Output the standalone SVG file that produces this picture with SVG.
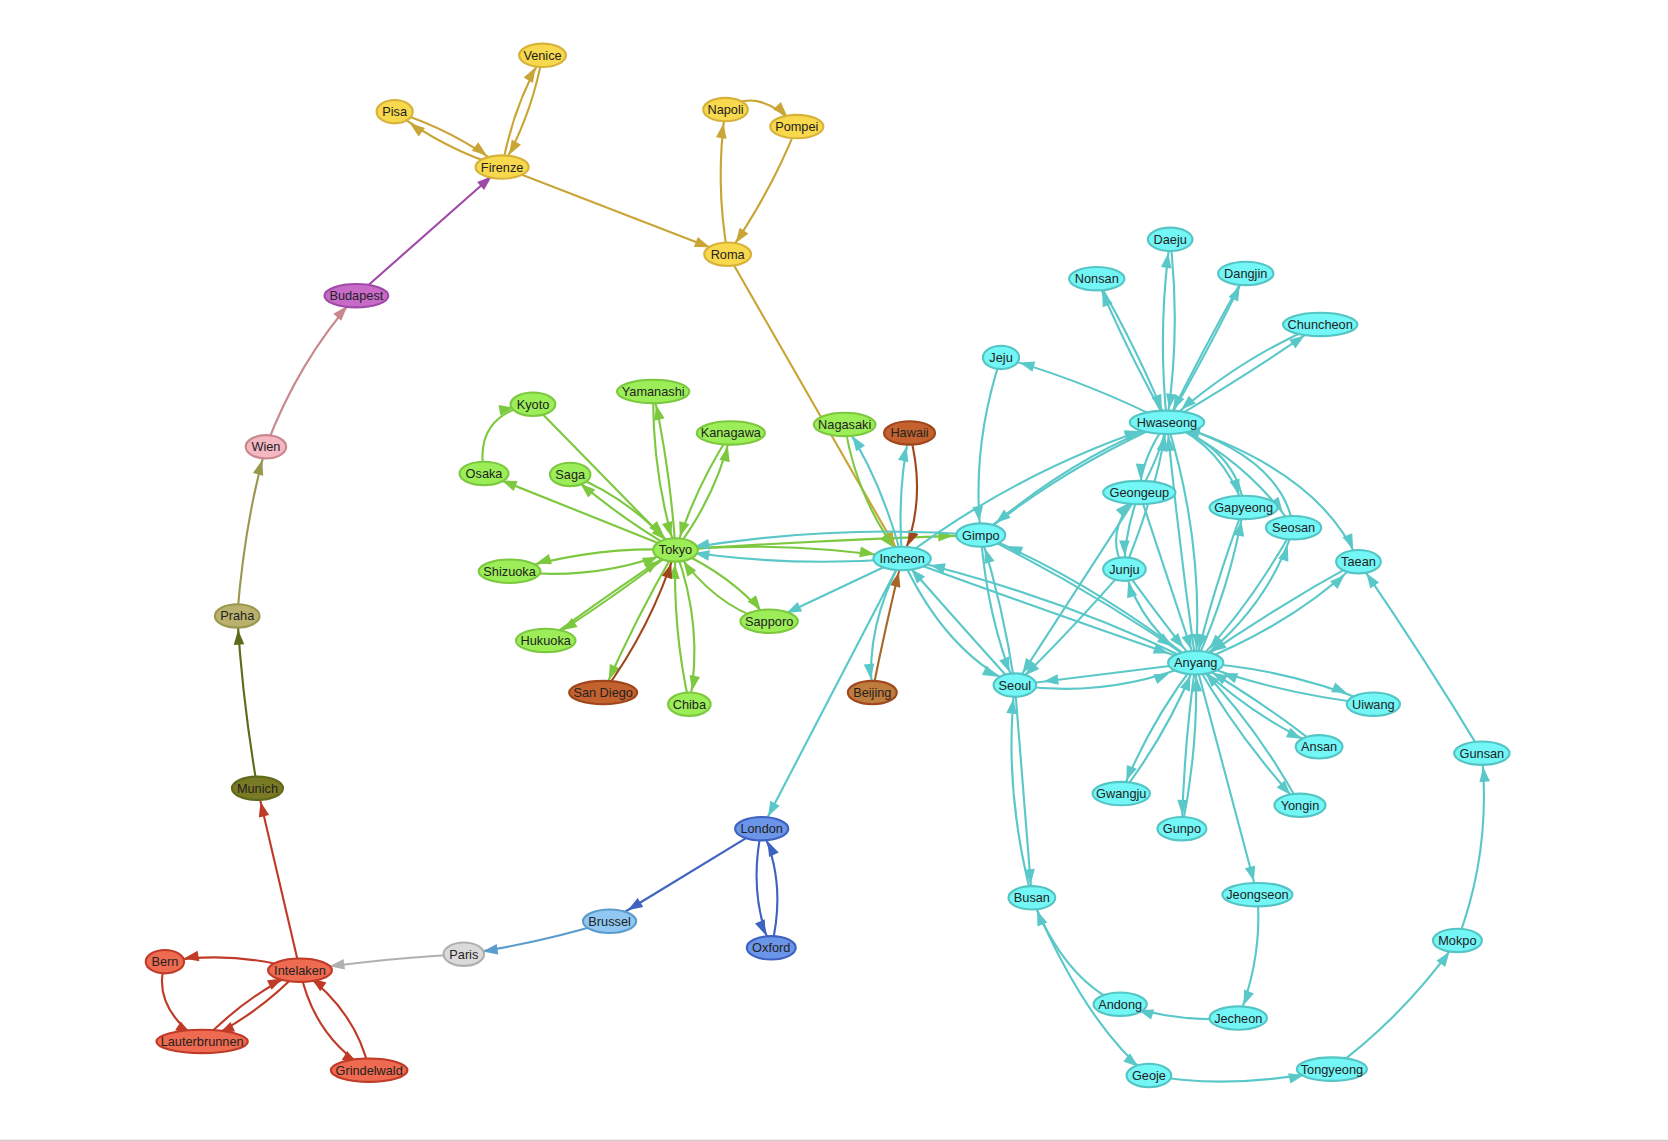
<svg xmlns="http://www.w3.org/2000/svg" width="1668" height="1141" viewBox="0 0 1668 1141">
<style>
.e{fill:none;stroke-width:2}
.n ellipse{stroke-width:2}
.n text{font-family:"Liberation Sans",Arial,sans-serif;font-size:12px;fill:#222;text-anchor:middle;dominant-baseline:central}
.ye ellipse{fill:#f8d84c;stroke:#d6b23a}.gr ellipse{fill:#9cee58;stroke:#7cc83f}.cy ellipse{fill:#72f6f6;stroke:#55c4c4}
.rd ellipse{fill:#ee6a50;stroke:#c03a28}
</style>
<defs>
<marker id="ye-a" markerUnits="userSpaceOnUse" orient="auto" refX="27" refY="0" overflow="visible"><path d="M0,-5 L14,0 L0,5z" fill="#c8a535"/></marker>
<marker id="ye-b" markerUnits="userSpaceOnUse" orient="auto" refX="32" refY="0" overflow="visible"><path d="M0,-5 L14,0 L0,5z" fill="#c8a535"/></marker>
<marker id="pu-a" markerUnits="userSpaceOnUse" orient="auto" refX="27" refY="0" overflow="visible"><path d="M0,-5 L14,0 L0,5z" fill="#a04aa8"/></marker>
<marker id="pk-a" markerUnits="userSpaceOnUse" orient="auto" refX="27" refY="0" overflow="visible"><path d="M0,-5 L14,0 L0,5z" fill="#c98890"/></marker>
<marker id="ol-a" markerUnits="userSpaceOnUse" orient="auto" refX="27" refY="0" overflow="visible"><path d="M0,-5 L14,0 L0,5z" fill="#9a9850"/></marker>
<marker id="od-a" markerUnits="userSpaceOnUse" orient="auto" refX="27" refY="0" overflow="visible"><path d="M0,-5 L14,0 L0,5z" fill="#5e6a1a"/></marker>
<marker id="re-a" markerUnits="userSpaceOnUse" orient="auto" refX="27" refY="0" overflow="visible"><path d="M0,-5 L14,0 L0,5z" fill="#c03a28"/></marker>
<marker id="re-b" markerUnits="userSpaceOnUse" orient="auto" refX="32" refY="0" overflow="visible"><path d="M0,-5 L14,0 L0,5z" fill="#c03a28"/></marker>
<marker id="gy-c" markerUnits="userSpaceOnUse" orient="auto" refX="42" refY="0" overflow="visible"><path d="M0,-5 L14,0 L0,5z" fill="#b0b0b0"/></marker>
<marker id="lb-b" markerUnits="userSpaceOnUse" orient="auto" refX="32" refY="0" overflow="visible"><path d="M0,-5 L14,0 L0,5z" fill="#5a9ccc"/></marker>
<marker id="bl-a" markerUnits="userSpaceOnUse" orient="auto" refX="27" refY="0" overflow="visible"><path d="M0,-5 L14,0 L0,5z" fill="#3e62c0"/></marker>
<marker id="bl-b" markerUnits="userSpaceOnUse" orient="auto" refX="34" refY="0" overflow="visible"><path d="M0,-5 L14,0 L0,5z" fill="#3e62c0"/></marker>
<marker id="gr-a" markerUnits="userSpaceOnUse" orient="auto" refX="27" refY="0" overflow="visible"><path d="M0,-5 L14,0 L0,5z" fill="#7cc83f"/></marker>
<marker id="gr-b" markerUnits="userSpaceOnUse" orient="auto" refX="32" refY="0" overflow="visible"><path d="M0,-5 L14,0 L0,5z" fill="#7cc83f"/></marker>
<marker id="gr-c" markerUnits="userSpaceOnUse" orient="auto" refX="40" refY="0" overflow="visible"><path d="M0,-5 L14,0 L0,5z" fill="#7cc83f"/></marker>
<marker id="br-a" markerUnits="userSpaceOnUse" orient="auto" refX="27" refY="0" overflow="visible"><path d="M0,-5 L14,0 L0,5z" fill="#a0461c"/></marker>
<marker id="bn-a" markerUnits="userSpaceOnUse" orient="auto" refX="27" refY="0" overflow="visible"><path d="M0,-5 L14,0 L0,5z" fill="#a8672a"/></marker>
<marker id="cy-a" markerUnits="userSpaceOnUse" orient="auto" refX="27" refY="0" overflow="visible"><path d="M0,-5 L14,0 L0,5z" fill="#5ac8c8"/></marker>
<marker id="cy-b" markerUnits="userSpaceOnUse" orient="auto" refX="32" refY="0" overflow="visible"><path d="M0,-5 L14,0 L0,5z" fill="#5ac8c8"/></marker>
<marker id="cy-c" markerUnits="userSpaceOnUse" orient="auto" refX="41" refY="0" overflow="visible"><path d="M0,-5 L14,0 L0,5z" fill="#5ac8c8"/></marker>
</defs>
<rect width="1668" height="1141" fill="#fff"/>
<g transform="scale(1.0638)">
<g id="connectors">
<g stroke="#c8a535">
<path class="e" d="M371,105 Q426,122 472,157" marker-end="url(#ye-b)"/>
<path class="e" d="M472,157 Q417,140 371,105" marker-end="url(#ye-b)"/>
<path class="e" d="M472,157 Q482,101 510,52" marker-end="url(#ye-a)"/>
<path class="e" d="M510,52 Q500,108 472,157" marker-end="url(#ye-a)"/>
<path class="e" d="M472,157 L684,239" marker-end="url(#ye-b)"/>
<path class="e" d="M684,239 Q672,170 682,103" marker-end="url(#ye-a)"/>
<path class="e" d="M682,103 Q712,80 749,119" marker-end="url(#ye-a)"/>
<path class="e" d="M749,119 Q725,180 684,239" marker-end="url(#ye-a)"/>
<path class="e" d="M684,239 L848,525" marker-end="url(#ye-a)"/>
</g>
<path class="e" stroke="#a04aa8" d="M335,278 L472,157" marker-end="url(#pu-a)"/>
<path class="e" stroke="#c98890" d="M250,420 Q280,340 335,278" marker-end="url(#pk-a)"/>
<path class="e" stroke="#9a9850" d="M223,579 Q230,490 250,420" marker-end="url(#ol-a)"/>
<path class="e" stroke="#5e6a1a" d="M242,741 Q228,660 223,579" marker-end="url(#od-a)"/>
<g stroke="#c03a28">
<path class="e" d="M282,912 L242,741" marker-end="url(#re-a)"/>
<path class="e" d="M282,912 Q220,893 155,904" marker-end="url(#re-b)"/>
<path class="e" d="M155,904 Q142,948 190,979" marker-end="url(#re-a)"/>
<path class="e" d="M282,912 Q242,954 190,979" marker-end="url(#re-b)"/>
<path class="e" d="M190,979 Q230,937 282,912" marker-end="url(#re-b)"/>
<path class="e" d="M282,912 Q295,975 347,1006" marker-end="url(#re-a)"/>
<path class="e" d="M347,1006 Q335,950 282,912" marker-end="url(#re-a)"/>
</g>
<path class="e" stroke="#b0b0b0" d="M436,897 Q370,900 282,912" marker-end="url(#gy-c)"/>
<path class="e" stroke="#5a9ccc" d="M573,866 Q510,886 436,897" marker-end="url(#lb-b)"/>
<g stroke="#3e62c0">
<path class="e" d="M716,779 L573,866" marker-end="url(#bl-b)"/>
<path class="e" d="M716,779 Q703,840 725,891" marker-end="url(#bl-a)"/>
<path class="e" d="M725,891 Q740,830 716,779" marker-end="url(#bl-a)"/>
</g>
<g stroke="#7cc83f">
<path class="e" d="M455,445 Q445,390 501,380" marker-end="url(#gr-b)"/>
<path class="e" d="M501,380 L635,517" marker-end="url(#gr-a)"/>
<path class="e" d="M635,517 Q630,440 614,368" marker-end="url(#gr-a)"/>
<path class="e" d="M614,368 Q613,445 635,517" marker-end="url(#gr-a)"/>
<path class="e" d="M635,517 Q674,465 687,407" marker-end="url(#gr-a)"/>
<path class="e" d="M687,407 Q655,455 635,517" marker-end="url(#gr-a)"/>
<path class="e" d="M635,517 L455,445" marker-end="url(#gr-b)"/>
<path class="e" d="M536,446 Q592,468 635,517" marker-end="url(#gr-b)"/>
<path class="e" d="M635,517 Q580,485 536,446" marker-end="url(#gr-a)"/>
<path class="e" d="M635,517 Q560,513 479,537" marker-end="url(#gr-c)"/>
<path class="e" d="M479,537 Q560,547 635,517" marker-end="url(#gr-b)"/>
<path class="e" d="M635,517 Q568,568 513,602" marker-end="url(#gr-b)"/>
<path class="e" d="M513,602 Q580,553 635,517" marker-end="url(#gr-b)"/>
<path class="e" d="M635,517 Q598,580 567,651" marker-end="url(#gr-a)"/>
<path class="e" d="M635,517 Q662,590 648,662" marker-end="url(#gr-a)"/>
<path class="e" d="M648,662 Q632,590 635,517" marker-end="url(#gr-a)"/>
<path class="e" d="M635,517 Q692,543 723,584" marker-end="url(#gr-a)"/>
<path class="e" d="M723,584 Q673,572 635,517" marker-end="url(#gr-a)"/>
<path class="e" d="M635,517 Q740,508 848,525" marker-end="url(#gr-c)"/>
<path class="e" d="M635,517 Q780,507 922,503" marker-end="url(#gr-c)"/>
<path class="e" d="M794,399 Q805,470 848,525" marker-end="url(#gr-a)"/>
</g>
<path class="e" stroke="#a0461c" d="M567,651 Q612,590 635,517" marker-end="url(#br-a)"/>
<path class="e" stroke="#a0461c" d="M855,407 Q872,470 848,525" marker-end="url(#br-a)"/>
<path class="e" stroke="#a8672a" d="M820,651 Q832,590 848,525" marker-end="url(#bn-a)"/>
<g stroke="#5ac8c8">
<path class="e" d="M848,525 L716,779" marker-end="url(#cy-a)"/>
<path class="e" d="M848,525 Q740,534 635,517" marker-end="url(#cy-b)"/>
<path class="e" d="M922,503 Q780,492 635,517" marker-end="url(#cy-b)"/>
<path class="e" d="M848,525 Q828,450 794,399" marker-end="url(#cy-a)"/>
<path class="e" d="M848,525 Q843,460 855,407" marker-end="url(#cy-a)"/>
<path class="e" d="M848,525 Q813,590 820,651" marker-end="url(#cy-a)"/>
<path class="e" d="M848,525 L723,584" marker-end="url(#cy-b)"/>
<path class="e" d="M848,525 Q960,440 1097,397" marker-end="url(#cy-c)"/>
<path class="e" d="M1097,397 Q1000,440 922,503" marker-end="url(#cy-b)"/>
<path class="e" d="M922,503 Q1010,428 1097,397" marker-end="url(#cy-c)"/>
<path class="e" d="M1097,397 Q1020,358 941,336" marker-end="url(#cy-b)"/>
<path class="e" d="M941,336 Q913,420 922,503" marker-end="url(#cy-a)"/>
<path class="e" d="M1097,397 Q1057,325 1031,262" marker-end="url(#cy-a)"/>
<path class="e" d="M1031,262 Q1071,332 1097,397" marker-end="url(#cy-a)"/>
<path class="e" d="M1097,397 Q1088,310 1100,225" marker-end="url(#cy-a)"/>
<path class="e" d="M1100,225 Q1110,310 1097,397" marker-end="url(#cy-a)"/>
<path class="e" d="M1097,397 Q1140,322 1171,257" marker-end="url(#cy-a)"/>
<path class="e" d="M1171,257 Q1130,330 1097,397" marker-end="url(#cy-a)"/>
<path class="e" d="M1097,397 Q1180,348 1241,305" marker-end="url(#cy-b)"/>
<path class="e" d="M1241,305 Q1165,336 1097,397" marker-end="url(#cy-b)"/>
<path class="e" d="M922,503 Q928,580 954,644" marker-end="url(#cy-a)"/>
<path class="e" d="M954,644 Q943,570 922,503" marker-end="url(#cy-a)"/>
<path class="e" d="M848,525 Q888,612 954,644" marker-end="url(#cy-b)"/>
<path class="e" d="M954,644 Q905,590 848,525" marker-end="url(#cy-a)"/>
<path class="e" d="M1124,623 Q990,558 848,525" marker-end="url(#cy-c)"/>
<path class="e" d="M848,525 Q990,577 1124,623" marker-end="url(#cy-c)"/>
<path class="e" d="M1124,623 Q1020,543 922,503" marker-end="url(#cy-c)"/>
<path class="e" d="M922,503 Q1030,557 1124,623" marker-end="url(#cy-c)"/>
<path class="e" d="M1071,463 L954,644" marker-end="url(#cy-a)"/>
<path class="e" d="M1057,535 Q1000,600 954,644" marker-end="url(#cy-a)"/>
<path class="e" d="M1097,397 Q1073,430 1071,463" marker-end="url(#cy-a)"/>
<path class="e" d="M1071,463 Q1092,425 1097,397" marker-end="url(#cy-a)"/>
<path class="e" d="M1071,463 Q1057,500 1057,535" marker-end="url(#cy-a)"/>
<path class="e" d="M1057,535 Q1036,500 1071,463" marker-end="url(#cy-a)"/>
<path class="e" d="M1057,535 Q1088,460 1097,397" marker-end="url(#cy-a)"/>
<path class="e" d="M1057,535 Q1097,590 1124,623" marker-end="url(#cy-b)"/>
<path class="e" d="M1124,623 Q1073,592 1057,535" marker-end="url(#cy-a)"/>
<path class="e" d="M1097,397 Q1132,510 1124,623" marker-end="url(#cy-a)"/>
<path class="e" d="M1124,623 Q1108,510 1097,397" marker-end="url(#cy-a)"/>
<path class="e" d="M1071,463 L1124,623" marker-end="url(#cy-a)"/>
<path class="e" d="M1097,397 Q1150,420 1169,477" marker-end="url(#cy-a)"/>
<path class="e" d="M1169,477 Q1165,425 1097,397" marker-end="url(#cy-b)"/>
<path class="e" d="M1124,623 Q1157,550 1169,477" marker-end="url(#cy-a)"/>
<path class="e" d="M1169,477 Q1140,555 1124,623" marker-end="url(#cy-a)"/>
<path class="e" d="M1097,397 Q1170,430 1216,496" marker-end="url(#cy-b)"/>
<path class="e" d="M1216,496 Q1205,428 1097,397" marker-end="url(#cy-b)"/>
<path class="e" d="M1216,496 Q1175,570 1124,623" marker-end="url(#cy-b)"/>
<path class="e" d="M1124,623 Q1192,572 1216,496" marker-end="url(#cy-b)"/>
<path class="e" d="M1097,397 Q1240,440 1277,528" marker-end="url(#cy-a)"/>
<path class="e" d="M1277,528 Q1200,570 1124,623" marker-end="url(#cy-b)"/>
<path class="e" d="M1124,623 Q1215,587 1277,528" marker-end="url(#cy-b)"/>
<path class="e" d="M954,644 Q1040,657 1124,623" marker-end="url(#cy-c)"/>
<path class="e" d="M1124,623 Q1040,633 954,644" marker-end="url(#cy-c)"/>
<path class="e" d="M1124,623 Q1210,628 1291,662" marker-end="url(#cy-c)"/>
<path class="e" d="M1291,662 Q1200,652 1124,623" marker-end="url(#cy-c)"/>
<path class="e" d="M1124,623 Q1175,672 1240,702" marker-end="url(#cy-b)"/>
<path class="e" d="M1240,702 Q1192,663 1124,623" marker-end="url(#cy-b)"/>
<path class="e" d="M1124,623 Q1080,680 1054,746" marker-end="url(#cy-a)"/>
<path class="e" d="M1054,746 Q1097,690 1124,623" marker-end="url(#cy-a)"/>
<path class="e" d="M1124,623 Q1113,700 1111,779" marker-end="url(#cy-a)"/>
<path class="e" d="M1111,779 Q1127,700 1124,623" marker-end="url(#cy-a)"/>
<path class="e" d="M1124,623 Q1163,692 1222,757" marker-end="url(#cy-a)"/>
<path class="e" d="M1222,757 Q1182,683 1124,623" marker-end="url(#cy-a)"/>
<path class="e" d="M1124,623 L1182,841" marker-end="url(#cy-a)"/>
<path class="e" d="M954,644 Q962,745 970,844" marker-end="url(#cy-a)"/>
<path class="e" d="M970,844 Q943,740 954,644" marker-end="url(#cy-a)"/>
<path class="e" d="M1182,841 Q1187,900 1164,957" marker-end="url(#cy-a)"/>
<path class="e" d="M1164,957 Q1110,962 1053,944" marker-end="url(#cy-b)"/>
<path class="e" d="M1053,944 Q1000,920 970,844" marker-end="url(#cy-a)"/>
<path class="e" d="M970,844 Q1020,962 1080,1011" marker-end="url(#cy-a)"/>
<path class="e" d="M1080,1011 Q1160,1025 1252,1005" marker-end="url(#cy-c)"/>
<path class="e" d="M1252,1005 Q1320,955 1370,884" marker-end="url(#cy-a)"/>
<path class="e" d="M1370,884 Q1402,800 1393,708" marker-end="url(#cy-a)"/>
<path class="e" d="M1393,708 Q1340,620 1277,528" marker-end="url(#cy-a)"/>
</g>
</g>
<g id="n-venice" class="n ye"><ellipse cx="510" cy="52" rx="22" ry="11"/><text x="510" y="52">Venice</text></g>
<g id="n-pisa" class="n ye"><ellipse cx="371" cy="105" rx="17" ry="11"/><text x="371" y="105">Pisa</text></g>
<g id="n-firenze" class="n ye"><ellipse cx="472" cy="157" rx="25" ry="11"/><text x="472" y="157">Firenze</text></g>
<g id="n-napoli" class="n ye"><ellipse cx="682" cy="103" rx="21" ry="11"/><text x="682" y="103">Napoli</text></g>
<g id="n-pompei" class="n ye"><ellipse cx="749" cy="119" rx="25" ry="11"/><text x="749" y="119">Pompei</text></g>
<g id="n-roma" class="n ye"><ellipse cx="684" cy="239" rx="22" ry="11"/><text x="684" y="239">Roma</text></g>
<g id="n-budapest" class="n"><ellipse cx="335" cy="278" rx="30" ry="11" fill="#c86ac8" stroke="#a04aa8"/><text x="335" y="278">Budapest</text></g>
<g id="n-wien" class="n"><ellipse cx="250" cy="420" rx="19" ry="11" fill="#f4b8c2" stroke="#c98890"/><text x="250" y="420">Wien</text></g>
<g id="n-praha" class="n"><ellipse cx="223" cy="579" rx="21" ry="11" fill="#bab16e" stroke="#9a9850"/><text x="223" y="579">Praha</text></g>
<g id="n-munich" class="n"><ellipse cx="242" cy="741" rx="24" ry="11" fill="#7b7a24" stroke="#5e6a1a"/><text x="242" y="741">Munich</text></g>
<g id="n-intelaken" class="n rd"><ellipse cx="282" cy="912" rx="30" ry="11"/><text x="282" y="912">Intelaken</text></g>
<g id="n-bern" class="n rd"><ellipse cx="155" cy="904" rx="18" ry="11"/><text x="155" y="904">Bern</text></g>
<g id="n-lauterbrunnen" class="n rd"><ellipse cx="190" cy="979" rx="43" ry="11"/><text x="190" y="979">Lauterbrunnen</text></g>
<g id="n-grindelwald" class="n rd"><ellipse cx="347" cy="1006" rx="36" ry="11"/><text x="347" y="1006">Grindelwald</text></g>
<g id="n-paris" class="n"><ellipse cx="436" cy="897" rx="19" ry="11" fill="#dadada" stroke="#b0b0b0"/><text x="436" y="897">Paris</text></g>
<g id="n-brussel" class="n"><ellipse cx="573" cy="866" rx="25" ry="11" fill="#90c8f2" stroke="#5a9ccc"/><text x="573" y="866">Brussel</text></g>
<g id="n-london" class="n"><ellipse cx="716" cy="779" rx="25" ry="11" fill="#6b95e8" stroke="#3e62c0"/><text x="716" y="779">London</text></g>
<g id="n-oxford" class="n"><ellipse cx="725" cy="891" rx="23" ry="11" fill="#6b95e8" stroke="#3e62c0"/><text x="725" y="891">Oxford</text></g>
<g id="n-kyoto" class="n gr"><ellipse cx="501" cy="380" rx="21" ry="11"/><text x="501" y="380">Kyoto</text></g>
<g id="n-yamanashi" class="n gr"><ellipse cx="614" cy="368" rx="34" ry="11"/><text x="614" y="368">Yamanashi</text></g>
<g id="n-kanagawa" class="n gr"><ellipse cx="687" cy="407" rx="32" ry="11"/><text x="687" y="407">Kanagawa</text></g>
<g id="n-osaka" class="n gr"><ellipse cx="455" cy="445" rx="23" ry="11"/><text x="455" y="445">Osaka</text></g>
<g id="n-saga" class="n gr"><ellipse cx="536" cy="446" rx="19" ry="11"/><text x="536" y="446">Saga</text></g>
<g id="n-tokyo" class="n gr"><ellipse cx="635" cy="517" rx="21" ry="11"/><text x="635" y="517">Tokyo</text></g>
<g id="n-shizuoka" class="n gr"><ellipse cx="479" cy="537" rx="29" ry="11"/><text x="479" y="537">Shizuoka</text></g>
<g id="n-hukuoka" class="n gr"><ellipse cx="513" cy="602" rx="28" ry="11"/><text x="513" y="602">Hukuoka</text></g>
<g id="n-sandiego" class="n"><ellipse cx="567" cy="651" rx="32" ry="11" fill="#c3622e" stroke="#a0461c"/><text x="567" y="651">San Diego</text></g>
<g id="n-chiba" class="n gr"><ellipse cx="648" cy="662" rx="20" ry="11"/><text x="648" y="662">Chiba</text></g>
<g id="n-sapporo" class="n gr"><ellipse cx="723" cy="584" rx="27" ry="11"/><text x="723" y="584">Sapporo</text></g>
<g id="n-nagasaki" class="n gr"><ellipse cx="794" cy="399" rx="29" ry="11"/><text x="794" y="399">Nagasaki</text></g>
<g id="n-hawaii" class="n"><ellipse cx="855" cy="407" rx="24" ry="11" fill="#c3622e" stroke="#a0461c"/><text x="855" y="407">Hawaii</text></g>
<g id="n-beijing" class="n"><ellipse cx="820" cy="651" rx="23" ry="11" fill="#c07c3e" stroke="#a0461c"/><text x="820" y="651">Beijing</text></g>
<g id="n-incheon" class="n cy"><ellipse cx="848" cy="525" rx="27" ry="11"/><text x="848" y="525">Incheon</text></g>
<g id="n-gimpo" class="n cy"><ellipse cx="922" cy="503" rx="23" ry="11"/><text x="922" y="503">Gimpo</text></g>
<g id="n-jeju" class="n cy"><ellipse cx="941" cy="336" rx="17" ry="11"/><text x="941" y="336">Jeju</text></g>
<g id="n-daeju" class="n cy"><ellipse cx="1100" cy="225" rx="21" ry="11"/><text x="1100" y="225">Daeju</text></g>
<g id="n-nonsan" class="n cy"><ellipse cx="1031" cy="262" rx="26" ry="11"/><text x="1031" y="262">Nonsan</text></g>
<g id="n-dangjin" class="n cy"><ellipse cx="1171" cy="257" rx="26" ry="11"/><text x="1171" y="257">Dangjin</text></g>
<g id="n-chuncheon" class="n cy"><ellipse cx="1241" cy="305" rx="35" ry="11"/><text x="1241" y="305">Chuncheon</text></g>
<g id="n-hwaseong" class="n cy"><ellipse cx="1097" cy="397" rx="35" ry="11"/><text x="1097" y="397">Hwaseong</text></g>
<g id="n-geongeup" class="n cy"><ellipse cx="1071" cy="463" rx="34" ry="11"/><text x="1071" y="463">Geongeup</text></g>
<g id="n-gapyeong" class="n cy"><ellipse cx="1169" cy="477" rx="32" ry="11"/><text x="1169" y="477">Gapyeong</text></g>
<g id="n-seosan" class="n cy"><ellipse cx="1216" cy="496" rx="26" ry="11"/><text x="1216" y="496">Seosan</text></g>
<g id="n-taean" class="n cy"><ellipse cx="1277" cy="528" rx="21" ry="11"/><text x="1277" y="528">Taean</text></g>
<g id="n-junju" class="n cy"><ellipse cx="1057" cy="535" rx="20" ry="11"/><text x="1057" y="535">Junju</text></g>
<g id="n-anyang" class="n cy"><ellipse cx="1124" cy="623" rx="26" ry="11"/><text x="1124" y="623">Anyang</text></g>
<g id="n-seoul" class="n cy"><ellipse cx="954" cy="644" rx="20" ry="11"/><text x="954" y="644">Seoul</text></g>
<g id="n-uiwang" class="n cy"><ellipse cx="1291" cy="662" rx="25" ry="11"/><text x="1291" y="662">Uiwang</text></g>
<g id="n-ansan" class="n cy"><ellipse cx="1240" cy="702" rx="22" ry="11"/><text x="1240" y="702">Ansan</text></g>
<g id="n-gwangju" class="n cy"><ellipse cx="1054" cy="746" rx="27" ry="11"/><text x="1054" y="746">Gwangju</text></g>
<g id="n-gunpo" class="n cy"><ellipse cx="1111" cy="779" rx="23" ry="11"/><text x="1111" y="779">Gunpo</text></g>
<g id="n-yongin" class="n cy"><ellipse cx="1222" cy="757" rx="24" ry="11"/><text x="1222" y="757">Yongin</text></g>
<g id="n-gunsan" class="n cy"><ellipse cx="1393" cy="708" rx="26" ry="11"/><text x="1393" y="708">Gunsan</text></g>
<g id="n-busan" class="n cy"><ellipse cx="970" cy="844" rx="22" ry="11"/><text x="970" y="844">Busan</text></g>
<g id="n-jeongseon" class="n cy"><ellipse cx="1182" cy="841" rx="33" ry="11"/><text x="1182" y="841">Jeongseon</text></g>
<g id="n-mokpo" class="n cy"><ellipse cx="1370" cy="884" rx="23" ry="11"/><text x="1370" y="884">Mokpo</text></g>
<g id="n-andong" class="n cy"><ellipse cx="1053" cy="944" rx="25" ry="11"/><text x="1053" y="944">Andong</text></g>
<g id="n-jecheon" class="n cy"><ellipse cx="1164" cy="957" rx="27" ry="11"/><text x="1164" y="957">Jecheon</text></g>
<g id="n-geoje" class="n cy"><ellipse cx="1080" cy="1011" rx="21" ry="11"/><text x="1080" y="1011">Geoje</text></g>
<g id="n-tongyeong" class="n cy"><ellipse cx="1252" cy="1005" rx="33" ry="11"/><text x="1252" y="1005">Tongyeong</text></g>
<line x1="0" y1="1072" x2="1668" y2="1072" stroke="#ccc" stroke-width="1"/>
</g>
</svg>
